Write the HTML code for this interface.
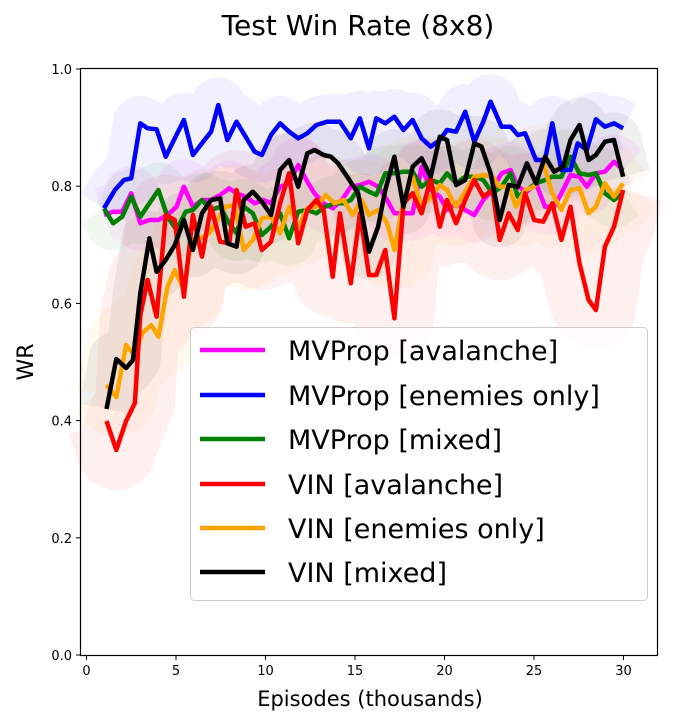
<!DOCTYPE html><html><head><style>body{margin:0;background:#fff}svg text{font-family:"DejaVu Sans","Liberation Sans",sans-serif}</style></head><body>
<svg id="s" width="676" height="722" xmlns="http://www.w3.org/2000/svg">
<text x="358" y="35" font-size="28" text-anchor="middle">Test Win Rate (8x8)</text>
<g id="bands"></g><g id="lines"></g>
<rect x="80.5" y="68.5" width="577" height="587" fill="none" stroke="#000" stroke-width="1.2"/>
<g id="ticks" font-size="13"></g>
<text x="370" y="706" font-size="21" text-anchor="middle">Episodes (thousands)</text>
<text transform="translate(33,362) rotate(-90)" font-size="22" text-anchor="middle">WR</text>
<rect x="190.5" y="327.5" width="457" height="273" rx="4" fill="#fff" fill-opacity="0.8" stroke="#ccc"/>
<g font-size="27">
<line x1="200" x2="265" y1="350" y2="350" stroke="#f0f" stroke-width="4.5"/><text x="288" y="360">MVProp [avalanche]</text>
<line x1="200" x2="265" y1="395" y2="395" stroke="#00f" stroke-width="4.5"/><text x="288" y="405">MVProp [enemies only]</text>
<line x1="200" x2="265" y1="439" y2="439" stroke="#008000" stroke-width="4.5"/><text x="288" y="449">MVProp [mixed]</text>
<line x1="200" x2="265" y1="484" y2="484" stroke="#f00" stroke-width="4.5"/><text x="288" y="494">VIN [avalanche]</text>
<line x1="200" x2="265" y1="528" y2="528" stroke="#ffa500" stroke-width="4.5"/><text x="288" y="538">VIN [enemies only]</text>
<line x1="200" x2="265" y1="572" y2="572" stroke="#000" stroke-width="4.5"/><text x="288" y="582">VIN [mixed]</text>
</g>
</svg>
<script>
const D={
"#f0f":[65,465,90,455,115,455,140,400,165,490,190,480,215,480,240,465,265,440,285,380,310,440,335,420,360,420,385,405,410,385,430,400,455,410,480,430,505,420,525,430,550,380,575,370,600,315,625,365,645,400,670,430,695,445,720,420,745,380,770,375,795,365,820,380,845,420,865,460,890,460,915,460,940,320,965,390,990,410,1010,450,1035,430,1060,450,1085,465,1110,420,1135,390,1160,340,1185,330,1205,380,1230,395,1255,370,1280,440,1305,440,1325,400,1350,345,1375,350,1395,380,1420,340,1445,335,1470,305,1495,330],
"#008000":[65,445,90,490,115,470,140,410,165,470,190,430,215,390,240,470,265,510,290,455,310,450,335,420,360,450,385,440,410,490,430,520,450,440,475,460,500,525,525,500,550,460,575,535,600,455,625,450,650,460,675,440,700,430,725,430,745,420,770,380,795,395,815,405,840,340,865,340,890,335,915,335,940,380,965,360,990,370,1010,340,1035,370,1060,350,1085,350,1110,360,1135,400,1160,380,1185,340,1205,410,1230,390,1255,370,1280,360,1300,350,1325,350,1350,290,1375,340,1400,345,1420,340,1445,400,1470,420,1495,400],
"#ffa500":[72,975,99,1011,126,855,150,888,170,820,195,795,215,830,240,680,260,630,285,690,305,540,330,535,355,520,380,475,400,440,425,435,450,570,475,540,500,475,525,470,550,520,575,440,600,500,625,445,650,440,675,405,700,430,725,420,750,465,775,420,795,465,820,450,845,490,865,570,890,420,915,350,940,440,965,410,990,375,1010,390,1035,440,1060,395,1085,350,1110,345,1135,350,1155,380,1180,380,1200,440,1225,390,1250,380,1275,310,1300,400,1325,450,1350,390,1375,385,1400,460,1420,440,1445,370,1470,410,1495,370],
"#f00":[72,1083,99,1170,126,1083,150,1029,165,765,185,660,210,770,235,465,260,480,285,710,310,465,335,590,360,440,385,545,410,550,430,390,455,500,480,490,500,570,525,545,550,430,575,340,600,550,625,450,650,420,670,450,695,650,715,460,745,670,770,460,795,645,815,645,840,570,865,775,890,430,915,400,940,460,965,355,990,500,1010,420,1035,490,1060,420,1085,360,1110,410,1135,390,1155,540,1180,460,1205,510,1225,400,1250,480,1275,485,1300,430,1325,540,1350,440,1375,610,1400,720,1420,750,1445,560,1470,500,1495,390],
"#00f":[65,445,95,390,120,360,140,355,165,190,185,205,210,208,235,290,260,235,285,180,310,285,335,250,360,215,380,135,405,240,430,185,455,230,480,275,500,285,525,225,550,190,575,215,600,235,625,220,650,195,680,185,715,185,745,235,770,175,795,265,815,175,840,190,865,170,890,210,915,180,940,235,965,260,990,240,1010,210,1035,215,1060,155,1085,245,1110,185,1130,125,1160,200,1185,200,1205,225,1225,220,1255,300,1280,300,1300,190,1325,330,1350,330,1370,250,1395,270,1420,178,1445,200,1470,190,1495,205],
"#000":[72,1047,99,897,126,924,145,900,165,700,190,535,210,635,235,600,260,555,285,480,310,570,335,460,360,420,385,415,405,550,430,560,450,420,475,395,500,425,525,465,550,330,575,300,600,380,625,280,645,270,670,285,690,290,710,310,735,350,765,400,795,575,820,500,840,390,865,290,890,440,915,320,940,295,965,350,990,230,1010,240,1035,375,1060,360,1085,250,1105,260,1130,340,1155,480,1180,375,1205,380,1230,310,1255,370,1280,290,1305,335,1330,320,1350,240,1375,195,1400,300,1420,285,1445,245,1470,240,1495,350]};
const ns="http://www.w3.org/2000/svg";
function el(t,a,p){const e=document.createElementNS(ns,t);for(const k in a)e.setAttribute(k,a[k]);document.querySelector(p).appendChild(e);return e}
for(const c in D){const a=D[c];let pts=[];for(let i=0;i<a.length;i+=2)pts.push((104+(a[i]-65)*0.363).toFixed(1)+","+(a[i+1]/3+60).toFixed(1));pts=pts.join(" ");
el("polyline",{points:pts,fill:"none",stroke:c,"stroke-opacity":0.06,"stroke-width":c=="#f00"||c=="#ffa500"?80:55,"stroke-linejoin":"round"},"#bands");
el("polyline",{points:pts,fill:"none",stroke:c,"stroke-width":4.5,"stroke-linejoin":"round"},"#lines");}
for(let i=0;i<=5;i++){const y=655-i*2*58.6;el("line",{x1:76,x2:80,y1:y,y2:y,stroke:"#000"},"#ticks");const t=el("text",{x:72,y:y+5,"text-anchor":"end"},"#ticks");t.textContent=(i/5).toFixed(1);}
for(let v=0;v<=30;v+=5){const x=86.5+v*17.9;el("line",{x1:x,x2:x,y1:656,y2:660,stroke:"#000"},"#ticks");const t=el("text",{x:x,y:675,"text-anchor":"middle"},"#ticks");t.textContent=v;}
</script></body></html>
